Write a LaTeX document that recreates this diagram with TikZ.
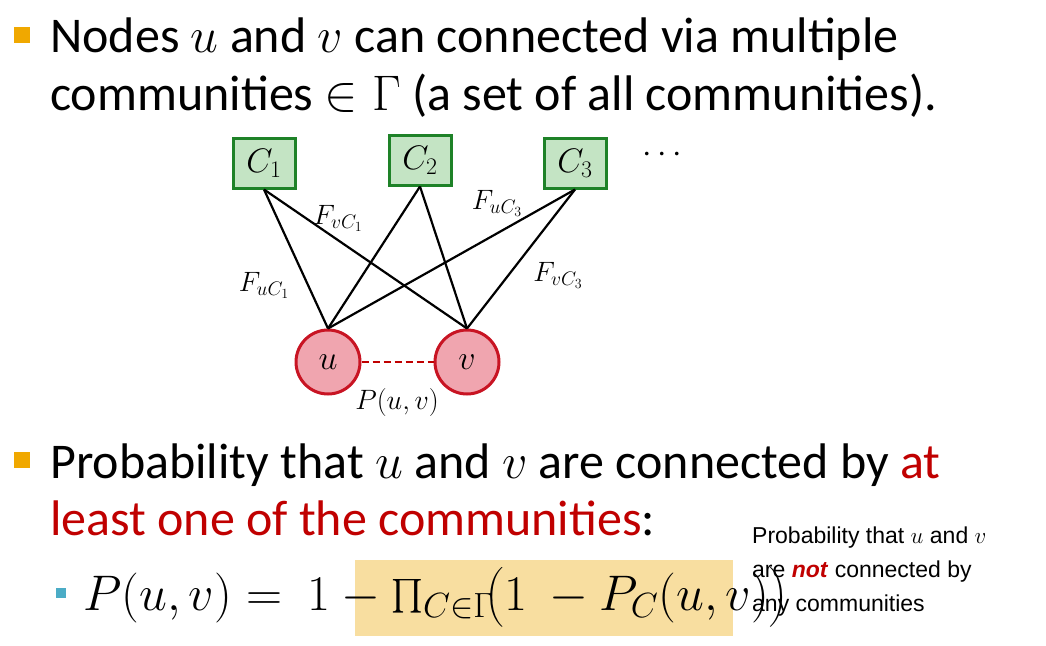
\documentclass[tikz,border=0pt]{standalone}
\usepackage{fix-cm}
\usepackage{amsmath}
\usepackage{graphicx}
\usepackage{fontspec}
\setmainfont{Carlito}
\newfontfamily\arialf{Liberation Sans}
\definecolor{bul}{RGB}{240,168,0}
\definecolor{bul2}{RGB}{75,172,198}
\definecolor{dred}{RGB}{192,0,0}
\definecolor{gfill}{RGB}{196,228,196}
\definecolor{gdraw}{RGB}{30,130,40}
\definecolor{rfill}{RGB}{240,165,175}
\definecolor{rdraw}{RGB}{200,20,35}
\definecolor{hl}{RGB}{248,222,160}
\begin{document}
\begin{tikzpicture}[x=1pt,y=-1pt,
  big/.style={font=\fontsize{50}{60}\selectfont,anchor=base west,inner sep=0},
  comm/.style={draw=gdraw,line width=3pt,fill=gfill,minimum width=62pt,minimum height=50pt,font=\fontsize{34}{40}\selectfont},
  vert/.style={circle,draw=rdraw,line width=3pt,fill=rfill,minimum size=64pt,font=\fontsize{34}{40}\selectfont},
  edge/.style={line width=2.2pt},
  lab/.style={font=\fontsize{28}{32}\selectfont,inner sep=0}]
\useasboundingbox (0,0) rectangle (1046,645);
% bullets
\fill[bul] (14,27) rectangle (30,43);
\node[big] (t1) at (50,52) {Nodes $u$ and $v$ can connected via multiple};
\node[big] (t2) at (50,110) {communities $\in\Gamma$ (a set of all communities).};
% graph
\node[comm] (c1) at (264,163) {$C_1$};
\node[comm] (c2) at (420,160) {$C_2$};
\node[comm] (c3) at (575,163) {$C_3$};
\node[font=\fontsize{34}{36}\selectfont] (dots) at (665,155) {$\cdots$};
\node[vert] (u) at (328,362) {$u$};
\node[vert] (v) at (467,362) {$v$};
\draw[edge] (c1.south) -- (u.north);
\draw[edge] (c1.south) -- (v.north);
\draw[edge] (c2.south) -- (u.north);
\draw[edge] (c2.south) -- (v.north);
\draw[edge] (c3.south) -- (u.north);
\draw[edge] (c3.south) -- (v.north);
\draw[dred,dash pattern=on 7pt off 4pt,line width=2.2pt] (u) -- (v);
\node[lab] (l1) at (338,218) {$F_{vC_1}$};
\node[lab] (l2) at (497,203) {$F_{uC_3}$};
\node[lab] (l3) at (264,285) {$F_{uC_1}$};
\node[lab] (l4) at (558,275) {$F_{vC_3}$};
\node[lab] (puv) at (397,402) {$P(u,v)$};
% second bullet
\fill[bul] (14,452) rectangle (30,468);
\node[big] (t3) at (50,478) {Probability that $u$ and $v$ are connected by \textcolor{dred}{at}};
\node[big] (t4) at (50,535) {\textcolor{dred}{least one of the communities}:};
\fill[bul2] (56,588) rectangle (66,598);
\fill[hl] (355,560) rectangle (733,636);
\node[big] (f) at (83,610) {$P(u,v) =\ 1 - \mathop{\raisebox{-3pt}{\scalebox{1.35}{$\prod$}}}\nolimits_{C\in\Gamma}\!\bigl(1\ - P_C(u,v)\bigr)$};
\node[font=\arialf\fontsize{23}{34}\selectfont,align=left,anchor=north west,inner sep=0] (note) at (752,527)
 {Probability that $u$ and $v$\\are \textcolor{dred}{\textbf{\textit{not}}} connected by\\any communities};
\end{tikzpicture}
\end{document}
